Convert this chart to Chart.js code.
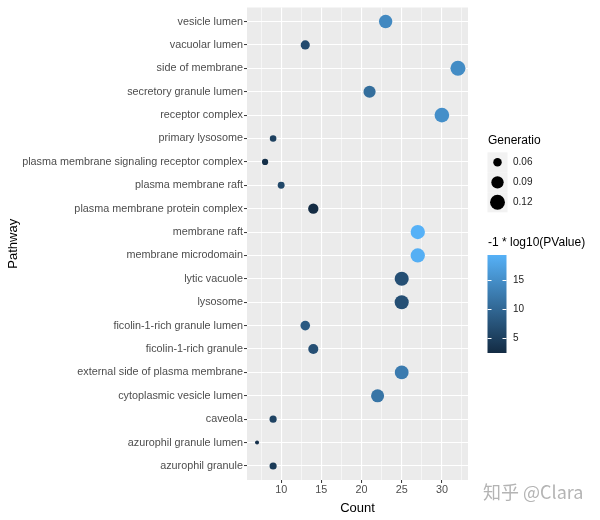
<!DOCTYPE html>
<html>
<head>
<meta charset="utf-8">
<script src="https://cdn.jsdelivr.net/npm/chart.js@4"></script>
<style>
  body { margin: 0; background: #fff; }
  #wrap { position: relative; width: 600px; height: 520px; }
</style>
</head>
<body>
<div id="wrap"><canvas id="dotChart" width="600" height="520"></canvas></div>
<script>
// ─── data ─────────────────────────────────────────────
const pathways = [
  'vesicle lumen', 'vacuolar lumen', 'side of membrane', 'secretory granule lumen',
  'receptor complex', 'primary lysosome', 'plasma membrane signaling receptor complex',
  'plasma membrane raft', 'plasma membrane protein complex', 'membrane raft',
  'membrane microdomain', 'lytic vacuole', 'lysosome', 'ficolin-1-rich granule lumen',
  'ficolin-1-rich granule', 'external side of plasma membrane', 'cytoplasmic vesicle lumen',
  'caveola', 'azurophil granule lumen', 'azurophil granule'
];
const counts = [23, 13, 32, 21, 30, 9, 8, 10, 14, 27, 27, 25, 25, 13, 14, 25, 22, 9, 7, 9];
const geneRatio = [0.101, 0.064, 0.121, 0.088, 0.117, 0.052, 0.051, 0.053, 0.072, 0.112,
                   0.112, 0.109, 0.109, 0.067, 0.070, 0.106, 0.098, 0.054, 0.048, 0.054];
const negLogP = [14.2, 6.6, 14.6, 10.8, 15.0, 5.0, 3.0, 6.0, 2.4, 19.3,
                 19.0, 7.0, 7.0, 8.3, 7.0, 12.5, 11.7, 5.4, 3.2, 4.4];
const xTicks = [10, 15, 20, 25, 30];
const sizeBreaks = [0.06, 0.09, 0.12];
const colorBreaks = [5, 10, 15];

// ─── scales (ggplot-like) ─────────────────────────────
const gMin = Math.min(...geneRatio), gMax = Math.max(...geneRatio);
const pMin = Math.min(...negLogP), pMax = Math.max(...negLogP);
const LOW = [0x13, 0x2B, 0x43], HIGH = [0x56, 0xB1, 0xF7];

function sizeR(g) {
  const t = Math.max(0, Math.min(1, (g - gMin) / (gMax - gMin)));
  return (4 + 11 * Math.sqrt(t)) / 2;
}
function colorOf(v) {
  const t = (v - pMin) / (pMax - pMin);
  const c = LOW.map((l, i) => Math.round(l + (HIGH[i] - l) * t));
  return `rgb(${c[0]},${c[1]},${c[2]})`;
}

const axisFont = { family: '"Liberation Sans", Arial, sans-serif', size: 10.8 };
const titleFont = { family: '"Liberation Sans", Arial, sans-serif', size: 13 };

// panel background + legends
const panelBg = {
  id: 'panelBg',
  beforeDraw(chart) {
    const { ctx, chartArea: a } = chart;
    ctx.save();
    ctx.fillStyle = '#EBEBEB';
    ctx.fillRect(a.left, a.top, a.right - a.left, a.bottom - a.top);
    ctx.restore();
  }
};

const legends = {
  id: 'legends',
  afterDraw(chart) {
    const ctx = chart.ctx;
    const lx = 488;
    ctx.save();
    ctx.textBaseline = 'middle';
    ctx.textAlign = 'left';

    // size legend
    ctx.fillStyle = '#000';
    ctx.font = '12px "Liberation Sans", Arial, sans-serif';
    ctx.fillText('Generatio', lx, 141);
    sizeBreaks.forEach((g, i) => {
      const cy = 162.3 + i * 20;
      ctx.fillStyle = '#F2F2F2';
      ctx.fillRect(487.5, cy - 10, 20, 20);
      ctx.fillStyle = '#000';
      ctx.beginPath();
      ctx.arc(497.5, cy, sizeR(g), 0, Math.PI * 2);
      ctx.fill();
      ctx.fillStyle = '#1a1a1a';
      ctx.font = '10px "Liberation Sans", Arial, sans-serif';
      ctx.fillText(g.toFixed(2), 513, cy);
    });

    // colour bar
    ctx.fillStyle = '#000';
    ctx.font = '12px "Liberation Sans", Arial, sans-serif';
    ctx.fillText('-1 * log10(PValue)', lx, 243);
    const bx = 487.5, bw = 19, top = 255, bot = 353;
    const grad = ctx.createLinearGradient(0, top, 0, bot);
    grad.addColorStop(0, colorOf(pMax));
    grad.addColorStop(1, colorOf(pMin));
    ctx.fillStyle = grad;
    ctx.fillRect(bx, top, bw, bot - top);
    const yOf = v => bot - (v - pMin) / (pMax - pMin) * (bot - top);
    colorBreaks.forEach(v => {
      const y = Math.round(yOf(v)) + 0.5;
      ctx.strokeStyle = '#fff';
      ctx.lineWidth = 1;
      ctx.beginPath();
      ctx.moveTo(bx, y); ctx.lineTo(bx + 4, y);
      ctx.moveTo(bx + bw - 4, y); ctx.lineTo(bx + bw, y);
      ctx.stroke();
      ctx.fillStyle = '#1a1a1a';
      ctx.font = '10px "Liberation Sans", Arial, sans-serif';
      ctx.fillText(String(v), 513, yOf(v));
    });

    // watermark
    ctx.fillStyle = '#b4b4b4';
    ctx.font = '18px "Noto Sans CJK SC", sans-serif';
    ctx.fillText('知乎 @Clara', 483, 492);
    ctx.restore();
  }
};

new Chart(document.getElementById('dotChart'), {
  type: 'bubble',
  data: {
    datasets: [{
      data: counts.map((c, i) => ({ x: c, y: i, r: sizeR(geneRatio[i]) })),
      backgroundColor: negLogP.map(colorOf),
      borderWidth: 0,
      hoverBorderWidth: 0
    }]
  },
  options: {
    responsive: false,
    animation: false,
    events: [],
    layout: { padding: { top: 6, right: 132, left: 0, bottom: 0 } },
    plugins: { legend: { display: false }, tooltip: { enabled: false } },
    scales: {
      x: {
        type: 'linear',
        min: 5.75, max: 33.25,
        afterBuildTicks: s => {
          const t = [7.5];
          xTicks.forEach(v => { t.push(v); t.push(v + 2.5); });
          s.ticks = t.map(v => ({ value: v }));
        },
        afterFit: s => { s.height = 40; },
        ticks: {
          autoSkip: false, maxRotation: 0, padding: 1,
          color: '#4D4D4D', font: axisFont,
          callback: v => (v % 5 === 0 ? String(v) : '')
        },
        grid: {
          color: '#FFFFFF',
          lineWidth: c => (c.tick && c.tick.value % 5 === 0 ? 1.1 : 0.55),
          tickColor: c => (c.tick && c.tick.value % 5 === 0 ? '#333333' : 'rgba(0,0,0,0)'),
          tickLength: 3, tickWidth: 1
        },
        border: { display: false },
        title: { display: true, text: 'Count', color: '#000', font: titleFont, padding: { top: 0, bottom: 4 } }
      },
      y: {
        type: 'linear',
        reverse: true,
        min: -0.6, max: pathways.length - 0.4,
        afterBuildTicks: s => { s.ticks = pathways.map((_, i) => ({ value: i })); },
        afterFit: s => { s.width = 247; },
        ticks: {
          autoSkip: false, padding: 1,
          color: '#4D4D4D', font: axisFont,
          callback: v => pathways[v]
        },
        grid: { color: '#FFFFFF', lineWidth: 1.1, tickColor: '#333333', tickLength: 3, tickWidth: 1 },
        border: { display: false },
        title: { display: true, text: 'Pathway', color: '#000', font: titleFont, padding: { top: 6, bottom: 0 } }
      }
    }
  },
  plugins: [panelBg, legends]
});
</script>
</body>
</html>
